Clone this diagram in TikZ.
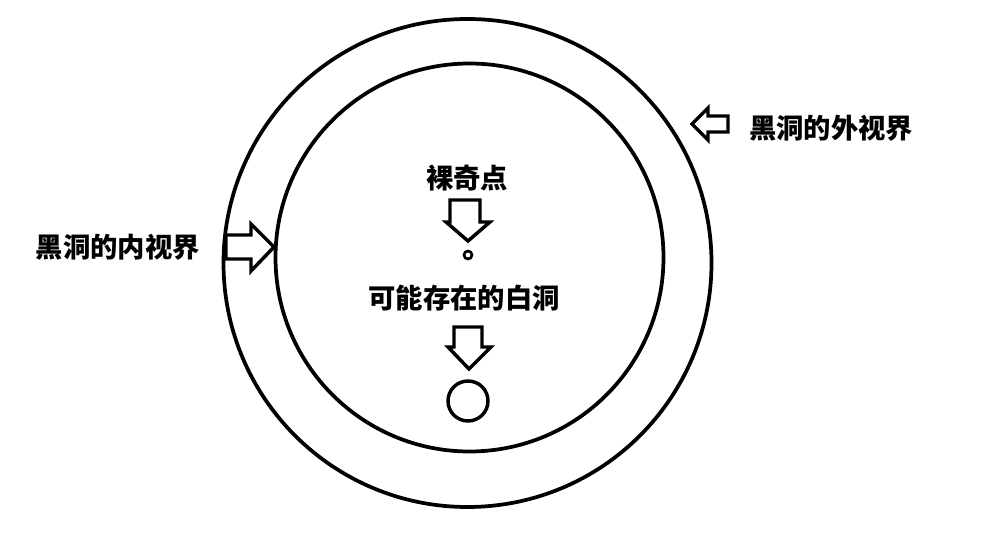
\documentclass[tikz,border=0pt]{standalone}
\usepackage{fontspec}
\newfontfamily\cjk{Noto Sans CJK SC}
\begin{document}
\begin{tikzpicture}[x=0.75pt,y=-0.75pt,
  ring/.style={draw=black,line width=2.8pt},
  blockarrow/.style={draw=black,fill=white,line width=2.6pt,line join=miter},
  lbl/.style={font=\cjk\bfseries\fontsize{20.5pt}{23pt}\selectfont,inner sep=0pt,text=black}]
\useasboundingbox (0,0) rectangle (1000,548);
\fill[white] (0,0) rectangle (1000,548);
% horizons
\node[ring,circle,minimum size=488*0.75pt,inner sep=0pt] (outer) at (467.5,263) {};
\node[ring,circle,minimum size=388*0.75pt,inner sep=0pt] (inner) at (469.5,257.5) {};
% singularity and white hole
\node[draw=black,line width=2pt,circle,minimum size=8*0.75pt,inner sep=0pt] (sing) at (468,255) {};
\node[draw=black,line width=2.6pt,circle,minimum size=40*0.75pt,inner sep=0pt] (white) at (468,401) {};
% labels
\node[lbl] (tout) at (831,128) {黑洞的外视界};
\node[lbl] (tin) at (118,247) {黑洞的内视界};
\node[lbl] (tsing) at (467,178) {裸奇点};
\node[lbl] (twhite) at (464,298) {可能存在的白洞};
% block arrows
% outer horizon: pointing left
\draw[blockarrow] (692,124) -- (708,108) -- (708,116) -- (728,116) -- (728,132) -- (708,132) -- (708,140) -- cycle;
% inner horizon: pointing right
\draw[blockarrow] (274,247) -- (251,224) -- (251,235) -- (226,235) -- (226,259) -- (251,259) -- (251,271) -- cycle;
% naked singularity arrow: pointing down
\draw[blockarrow] (468,241) -- (446,222) -- (450,222) -- (450,200) -- (480,200) -- (480,222) -- (490,222) -- cycle;
% white hole arrow: pointing down
\draw[blockarrow] (469,369) -- (448,347) -- (454,347) -- (454,327) -- (482,327) -- (482,347) -- (491,347) -- cycle;
\end{tikzpicture}
\end{document}
